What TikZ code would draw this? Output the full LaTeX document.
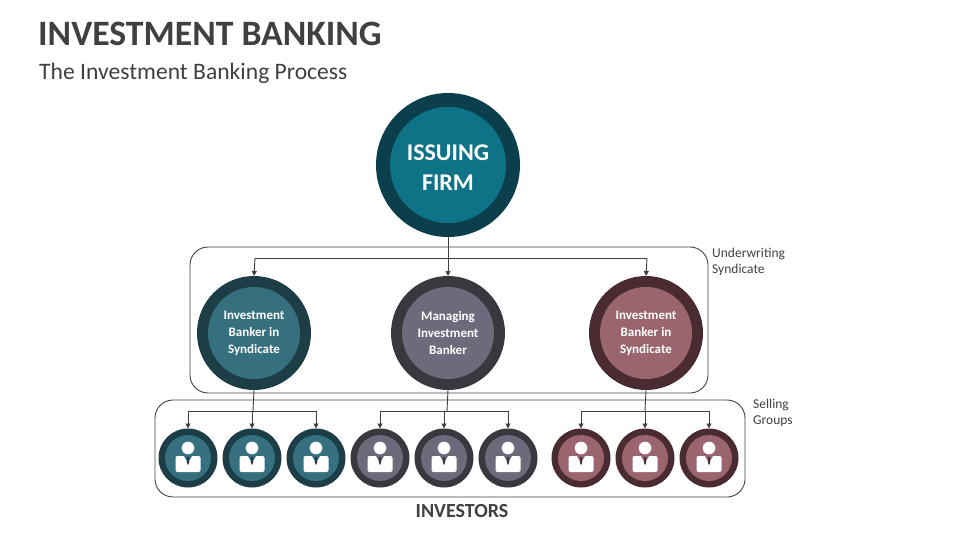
\documentclass[tikz,border=0pt]{standalone}
\usepackage{fontspec}
\setmainfont{Carlito}
\usetikzlibrary{arrows.meta}
\definecolor{tO}{HTML}{0B3F4C}\definecolor{tI}{HTML}{0E7387}
\definecolor{aO}{HTML}{1D3E47}\definecolor{aI}{HTML}{36707F}
\definecolor{bO}{HTML}{38383F}\definecolor{bI}{HTML}{6B6B7B}
\definecolor{cO}{HTML}{4A2B31}\definecolor{cI}{HTML}{9B6570}
\definecolor{ln}{HTML}{404040}
\tikzset{conn/.style={draw=ln,line width=0.9pt},
 arr/.style={conn,-{Triangle[length=5pt,width=5pt]}},
 grp/.style={draw=ln,line width=0.9pt,rounded corners=18pt},
 lbl/.style={font=\fontsize{13.5}{16}\selectfont,text=ln,align=left,anchor=north west,inner sep=0}}
\newcommand{\bigc}[5]{% name, pos, outer, inner, text
 \fill[#3] #2 circle (57);
 \fill[#4] #2 circle (46);
 \node[text=white,align=center,font=\bfseries\fontsize{13}{17}\selectfont] (#1) at #2 {#5};}
\newcommand{\person}[4]{% name, x, outer, inner
 \fill[#3] (#2,458) circle (29.5);
 \fill[#4] (#2,458) circle (23);
 \coordinate (#1) at (#2,428.5);
 \fill[white] (#2,448) circle (6.3);
 \fill[white,rounded corners=2pt] (#2-12.5,456) rectangle (#2+12.5,472);
 \fill[#4] (#2-4,456) -- (#2,463) -- (#2+4,456) -- cycle;
 \fill[#3] (#2-1.3,457) -- (#2+1.3,457) -- (#2+1,463) -- (#2,465) -- (#2-1,463) -- cycle;}
\begin{document}
\begin{tikzpicture}[x=1pt,y=-1pt]
\useasboundingbox (0,0) rectangle (960,540);
\node[anchor=base west,inner sep=0,font=\bfseries\fontsize{35.7}{38}\selectfont,text=ln] (t) at (38,46) {INVESTMENT BANKING};
\node[anchor=base west,inner sep=0,font=\fontsize{23.6}{26}\selectfont,text=ln] (s) at (39,80) {The Investment Banking Process};
\draw[grp] (190,247) rectangle (708,393);
\draw[grp] (155,400) rectangle (745,497);
\node[lbl] (uw) at (712,248) {Underwriting\\Syndicate};
\node[lbl] (sg) at (753,399) {Selling\\Groups};
\node[font=\bfseries\fontsize{20}{22}\selectfont,text=ln] (inv) at (462,511) {INVESTORS};
% issuing firm
\fill[tO] (448,165) circle (72);
\fill[tI] (448,165) circle (58);
\node[text=white,align=center,font=\bfseries\fontsize{24}{30}\selectfont] (firm) at (448,168) {ISSUING\\FIRM};
\coordinate (fb) at (448,237);
\bigc{A}{(254,333)}{aO}{aI}{Investment\\Banker in\\Syndicate}
\bigc{B}{(448,333)}{bO}{bI}{Managing\\Investment\\Banker}
\bigc{C}{(646,333)}{cO}{cI}{Investment\\Banker in\\Syndicate}
\coordinate (At) at (254,276);\coordinate (Bt) at (448,276);\coordinate (Ct) at (646,276);
\coordinate (Ab) at (254,390);\coordinate (Bb) at (448,390);\coordinate (Cb) at (646,390);
\draw[conn] (fb) -- (448,258);
\draw[conn] (255,258) -- (647,258);
\draw[arr] (255,258) -- (At);
\draw[arr] (448,258) -- (Bt);
\draw[arr] (647,258) -- (Ct);
\person{p1}{188}{aO}{aI}\person{p2}{252}{aO}{aI}\person{p3}{316}{aO}{aI}
\person{p4}{380}{bO}{bI}\person{p5}{444}{bO}{bI}\person{p6}{508}{bO}{bI}
\person{p7}{581}{cO}{cI}\person{p8}{645}{cO}{cI}\person{p9}{709}{cO}{cI}
\draw[conn] (Ab) -- (253,411);\draw[conn] (188,411) -- (316,411);
\draw[conn] (Bb) -- (447,411);\draw[conn] (380,411) -- (508,411);
\draw[conn] (Cb) -- (645,411);\draw[conn] (581,411) -- (709,411);
\foreach \p/\x in {p1/188,p2/252,p3/316,p4/380,p5/444,p6/508,p7/581,p8/645,p9/709}
 \draw[arr] (\x,411) -- (\p);
\end{tikzpicture}
\end{document}
